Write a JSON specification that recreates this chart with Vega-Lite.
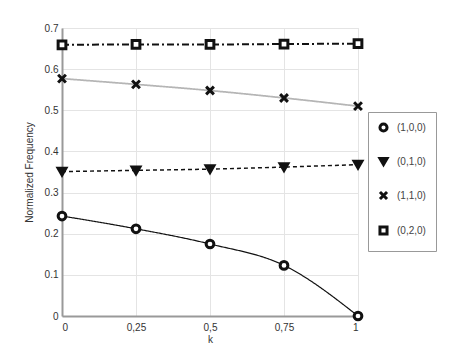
{
  "$schema": "https://vega.github.io/schema/vega-lite/v6.json",
  "width": 296,
  "height": 288,
  "autosize": {"type": "none"},
  "padding": {"left": 62, "top": 28, "right": 116, "bottom": 40},
  "background": "white",
  "config": {
    "font": "Liberation Sans",
    "view": {"stroke": "#dddddd", "strokeWidth": 1},
    "axis": {
      "gridColor": "#e4e4e4",
      "gridWidth": 1,
      "domainColor": "#999999",
      "domainWidth": 2,
      "tickSize": 0,
      "labelColor": "#333333",
      "labelFontSize": 10,
      "titleColor": "#333333",
      "titleFontSize": 10,
      "titleFontWeight": "normal"
    }
  },
  "data": {
    "values": [
      {"k": 0, "v": 0.243, "s": "(1,0,0)"},
      {"k": 0.25, "v": 0.212, "s": "(1,0,0)"},
      {"k": 0.5, "v": 0.175, "s": "(1,0,0)"},
      {"k": 0.75, "v": 0.123, "s": "(1,0,0)"},
      {"k": 1, "v": 0.0, "s": "(1,0,0)"},
      {"k": 0, "v": 0.351, "s": "(0,1,0)"},
      {"k": 0.25, "v": 0.354, "s": "(0,1,0)"},
      {"k": 0.5, "v": 0.357, "s": "(0,1,0)"},
      {"k": 0.75, "v": 0.362, "s": "(0,1,0)"},
      {"k": 1, "v": 0.368, "s": "(0,1,0)"},
      {"k": 0, "v": 0.577, "s": "(1,1,0)"},
      {"k": 0.25, "v": 0.563, "s": "(1,1,0)"},
      {"k": 0.5, "v": 0.548, "s": "(1,1,0)"},
      {"k": 0.75, "v": 0.530, "s": "(1,1,0)"},
      {"k": 1, "v": 0.510, "s": "(1,1,0)"},
      {"k": 0, "v": 0.659, "s": "(0,2,0)"},
      {"k": 0.25, "v": 0.660, "s": "(0,2,0)"},
      {"k": 0.5, "v": 0.660, "s": "(0,2,0)"},
      {"k": 0.75, "v": 0.661, "s": "(0,2,0)"},
      {"k": 1, "v": 0.662, "s": "(0,2,0)"}
    ]
  },
  "encoding": {
    "x": {
      "field": "k", "type": "quantitative",
      "scale": {"domain": [0, 1], "nice": false},
      "axis": {"values": [0, 0.25, 0.5, 0.75, 1], "labelExpr": "replace(toString(datum.value), '.', ',')", "title": "k", "labelPadding": 6, "titlePadding": 2}
    },
    "y": {
      "field": "v", "type": "quantitative",
      "scale": {"domain": [0, 0.7], "nice": false},
      "axis": {"values": [0, 0.1, 0.2, 0.3, 0.4, 0.5, 0.6, 0.7], "labelExpr": "toString(datum.value)", "title": "Normalized Frequency", "labelPadding": 4, "titlePadding": 10}
    }
  },
  "layer": [
    {
      "mark": {"type": "line", "interpolate": "monotone"},
      "encoding": {
        "stroke": {"field": "s", "type": "nominal", "legend": null,
          "scale": {"domain": ["(0,2,0)", "(1,1,0)", "(0,1,0)", "(1,0,0)"], "range": ["#111111", "#b5b5b5", "#111111", "#111111"]}},
        "strokeDash": {"field": "s", "type": "nominal", "legend": null,
          "scale": {"domain": ["(0,2,0)", "(1,1,0)", "(0,1,0)", "(1,0,0)"], "range": [[7, 3, 2, 3], [1, 0], [4, 3], [1, 0]]}},
        "strokeWidth": {"field": "s", "type": "nominal", "legend": null,
          "scale": {"domain": ["(0,2,0)", "(1,1,0)", "(0,1,0)", "(1,0,0)"], "range": [2, 1.2, 2, 2]}}
      }
    },
    {
      "mark": {"type": "point", "stroke": "#111111", "strokeWidth": 3, "size": 60, "opacity": 1},
      "encoding": {
        "shape": {"field": "s", "type": "nominal",
          "scale": {"domain": ["(1,0,0)", "(0,1,0)", "(1,1,0)", "(0,2,0)"], "range": ["circle", "triangle-down", "M-1,-1L1,1M1,-1L-1,1", "square"]},
          "legend": {"title": null, "orient": "none", "legendX": 306, "legendY": 84, "strokeColor": "#999999", "padding": 10, "rowPadding": 14, "symbolSize": 50, "symbolStrokeWidth": 3, "labelFontSize": 10, "labelColor": "#444444", "labelOffset": 8,
            "encode": {"symbols": {"update": {"stroke": {"value": "#111111"}, "strokeWidth": {"value": 3}, "opacity": {"value": 1}}}}}},
        "fill": {"field": "s", "type": "nominal",
          "scale": {"domain": ["(1,0,0)", "(0,1,0)", "(1,1,0)", "(0,2,0)"], "range": ["white", "#111111", "#111111", "white"]},
          "legend": {"title": null, "orient": "none", "legendX": 306, "legendY": 84}}
      }
    }
  ]
}
